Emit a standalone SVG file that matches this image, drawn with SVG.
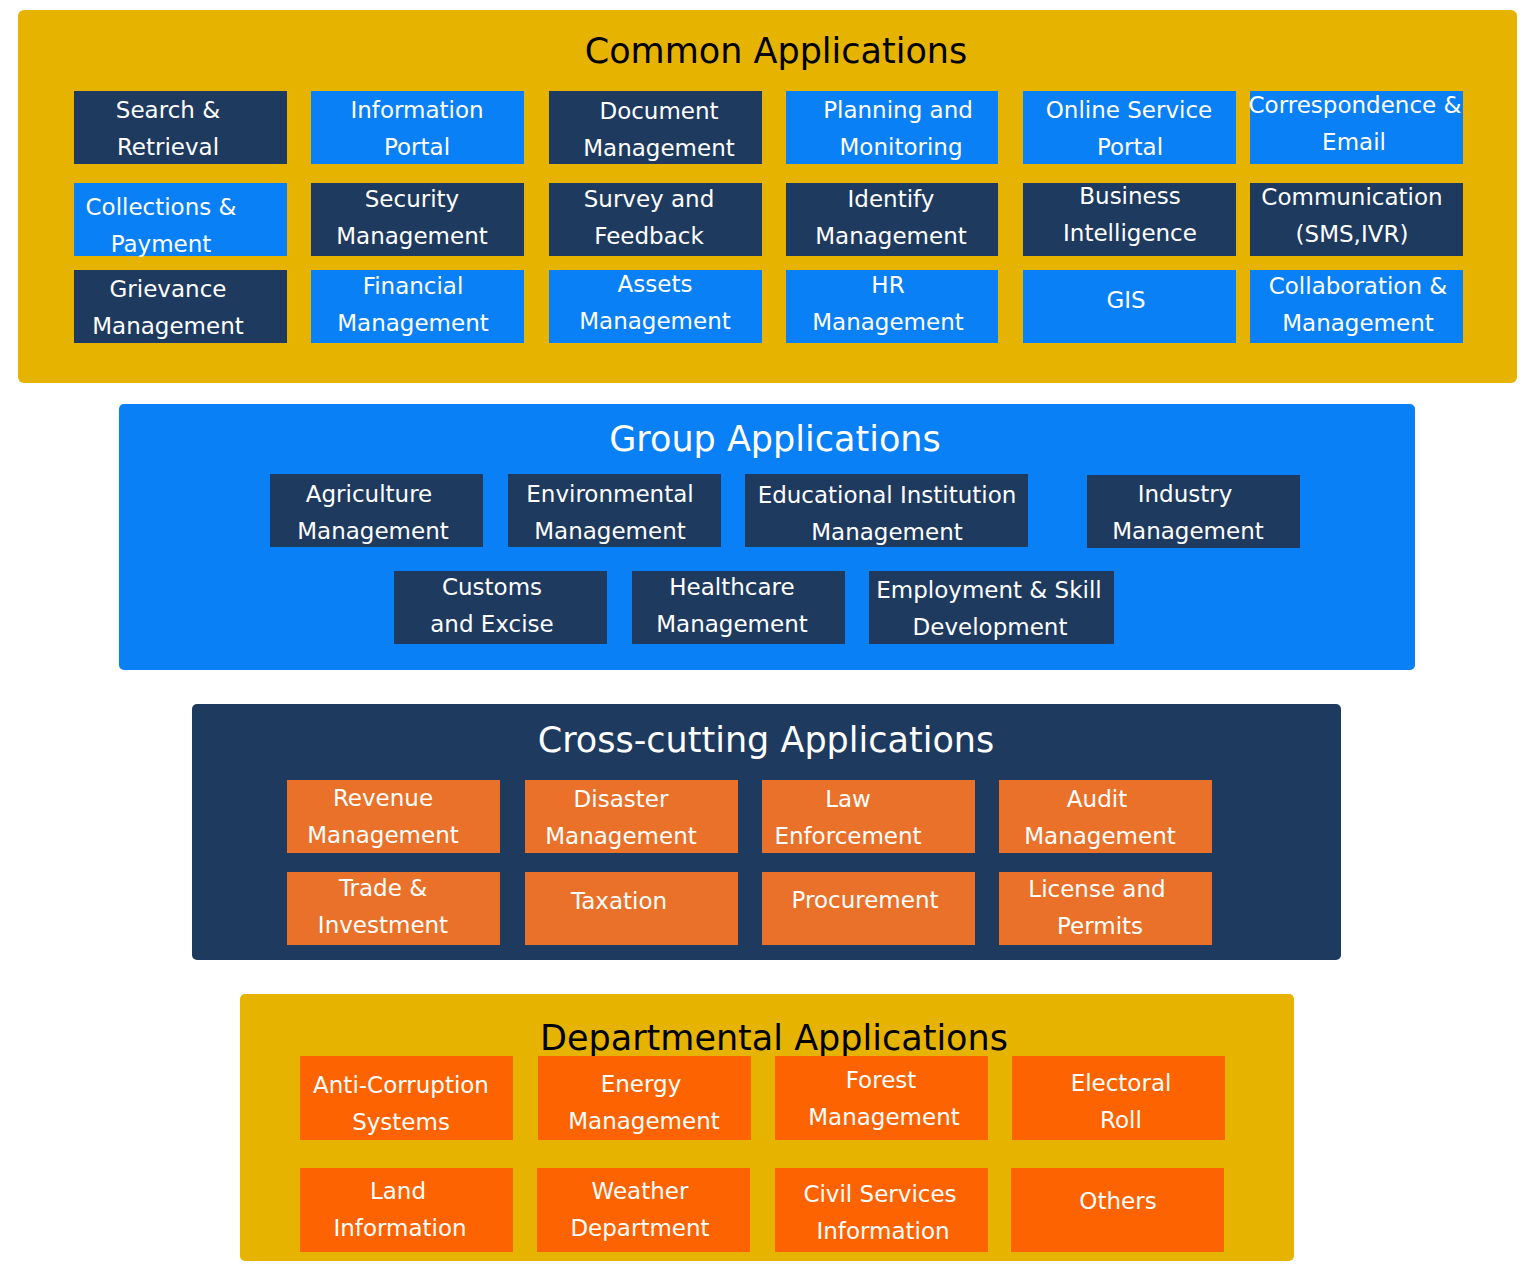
<svg xmlns="http://www.w3.org/2000/svg" width="1536" height="1280" viewBox="0 0 1536 1280">
<style>
.yel{fill:#E6B400}
.blu{fill:#0A80F6}
.nav{fill:#1E3A5F}
.org{fill:#EA7129}
.ora{fill:#FD6300}
text{font-family:"DejaVu Sans","Liberation Sans",sans-serif;text-anchor:middle}
.t{font-size:23px;fill:#FFFFFF}
.h{font-size:35px}
.hb{fill:#000000}
.hw{fill:#FFFFFF}
</style>
<rect width="1536" height="1280" fill="#FFFFFF"/>

<g id="common">
<rect class="yel" x="18" y="10" width="1499" height="373" rx="6"/>
<text class="h hb" x="776" y="63">Common Applications</text>
</g>
<g id="search"><rect class="nav" x="74" y="91" width="213" height="73"/><text class="t" x="168" y="118">Search &amp;</text><text class="t" x="168" y="155">Retrieval</text></g>
<g id="infoportal"><rect class="blu" x="311" y="91" width="213" height="73"/><text class="t" x="417" y="118">Information</text><text class="t" x="417" y="155">Portal</text></g>
<g id="docmgmt"><rect class="nav" x="549" y="91" width="213" height="73"/><text class="t" x="659" y="119">Document</text><text class="t" x="659" y="156">Management</text></g>
<g id="planning"><rect class="blu" x="786" y="91" width="212" height="73"/><text class="t" x="898" y="118">Planning and</text><text class="t" x="901" y="155">Monitoring</text></g>
<g id="online"><rect class="blu" x="1023" y="91" width="213" height="73"/><text class="t" x="1129" y="118">Online Service</text><text class="t" x="1130" y="155">Portal</text></g>
<g id="corresp"><rect class="blu" x="1250" y="91" width="213" height="73"/><text class="t" x="1355" y="113">Correspondence &amp;</text><text class="t" x="1354" y="150">Email</text></g>

<g id="collections"><rect class="blu" x="74" y="183" width="213" height="73"/><text class="t" x="161" y="215">Collections &amp;</text><text class="t" x="161" y="252">Payment</text></g>
<g id="security"><rect class="nav" x="311" y="183" width="213" height="73"/><text class="t" x="412" y="207">Security</text><text class="t" x="412" y="244">Management</text></g>
<g id="survey"><rect class="nav" x="549" y="183" width="213" height="73"/><text class="t" x="649" y="207">Survey and</text><text class="t" x="649" y="244">Feedback</text></g>
<g id="identify"><rect class="nav" x="786" y="183" width="212" height="73"/><text class="t" x="891" y="207">Identify</text><text class="t" x="891" y="244">Management</text></g>
<g id="bi"><rect class="nav" x="1023" y="183" width="213" height="73"/><text class="t" x="1130" y="204">Business</text><text class="t" x="1130" y="241">Intelligence</text></g>
<g id="comm"><rect class="nav" x="1250" y="183" width="213" height="73"/><text class="t" x="1352" y="205">Communication</text><text class="t" x="1352" y="242">(SMS,IVR)</text></g>

<g id="grievance"><rect class="nav" x="74" y="270" width="213" height="73"/><text class="t" x="168" y="297">Grievance</text><text class="t" x="168" y="334">Management</text></g>
<g id="financial"><rect class="blu" x="311" y="270" width="213" height="73"/><text class="t" x="413" y="294">Financial</text><text class="t" x="413" y="331">Management</text></g>
<g id="assets"><rect class="blu" x="549" y="270" width="213" height="73"/><text class="t" x="655" y="292">Assets</text><text class="t" x="655" y="329">Management</text></g>
<g id="hr"><rect class="blu" x="786" y="270" width="212" height="73"/><text class="t" x="888" y="293">HR</text><text class="t" x="888" y="330">Management</text></g>
<g id="gis"><rect class="blu" x="1023" y="270" width="213" height="73"/><text class="t" x="1126" y="308">GIS</text></g>
<g id="collab"><rect class="blu" x="1250" y="270" width="213" height="73"/><text class="t" x="1358" y="294">Collaboration &amp;</text><text class="t" x="1358" y="331">Management</text></g>

<g id="group">
<rect class="blu" x="119" y="404" width="1296" height="266" rx="5"/>
<text class="h hw" x="775" y="451">Group Applications</text>
</g>
<g id="agri"><rect class="nav" x="270" y="474" width="213" height="73"/><text class="t" x="369" y="502">Agriculture</text><text class="t" x="373" y="539">Management</text></g>
<g id="env"><rect class="nav" x="508" y="474" width="213" height="73"/><text class="t" x="610" y="502">Environmental</text><text class="t" x="610" y="539">Management</text></g>
<g id="edu"><rect class="nav" x="745" y="474" width="283" height="73"/><text class="t" x="887" y="503">Educational Institution</text><text class="t" x="887" y="540">Management</text></g>
<g id="industry"><rect class="nav" x="1087" y="475" width="213" height="73"/><text class="t" x="1185" y="502">Industry</text><text class="t" x="1188" y="539">Management</text></g>
<g id="customs"><rect class="nav" x="394" y="571" width="213" height="73"/><text class="t" x="492" y="595">Customs</text><text class="t" x="492" y="632">and Excise</text></g>
<g id="health"><rect class="nav" x="632" y="571" width="213" height="73"/><text class="t" x="732" y="595">Healthcare</text><text class="t" x="732" y="632">Management</text></g>
<g id="employ"><rect class="nav" x="869" y="571" width="245" height="73"/><text class="t" x="989" y="598">Employment &amp; Skill</text><text class="t" x="990" y="635">Development</text></g>

<g id="cross">
<rect class="nav" x="192" y="704" width="1149" height="256" rx="5"/>
<text class="h hw" x="766" y="752">Cross-cutting Applications</text>
</g>
<g id="revenue"><rect class="org" x="287" y="780" width="213" height="73"/><text class="t" x="383" y="806">Revenue</text><text class="t" x="383" y="843">Management</text></g>
<g id="disaster"><rect class="org" x="525" y="780" width="213" height="73"/><text class="t" x="621" y="807">Disaster</text><text class="t" x="621" y="844">Management</text></g>
<g id="law"><rect class="org" x="762" y="780" width="213" height="73"/><text class="t" x="848" y="807">Law</text><text class="t" x="848" y="844">Enforcement</text></g>
<g id="audit"><rect class="org" x="999" y="780" width="213" height="73"/><text class="t" x="1097" y="807">Audit</text><text class="t" x="1100" y="844">Management</text></g>
<g id="trade"><rect class="org" x="287" y="872" width="213" height="73"/><text class="t" x="383" y="896">Trade &amp;</text><text class="t" x="383" y="933">Investment</text></g>
<g id="tax"><rect class="org" x="525" y="872" width="213" height="73"/><text class="t" x="619" y="909">Taxation</text></g>
<g id="procure"><rect class="org" x="762" y="872" width="213" height="73"/><text class="t" x="865" y="908">Procurement</text></g>
<g id="license"><rect class="org" x="999" y="872" width="213" height="73"/><text class="t" x="1097" y="897">License and</text><text class="t" x="1100" y="934">Permits</text></g>

<g id="dept">
<rect class="yel" x="240" y="994" width="1054" height="267" rx="5"/>
<text class="h hb" x="774" y="1050">Departmental Applications</text>
</g>
<g id="anticorr"><rect class="ora" x="300" y="1056" width="213" height="84"/><text class="t" x="401" y="1093">Anti-Corruption</text><text class="t" x="401" y="1130">Systems</text></g>
<g id="energy"><rect class="ora" x="538" y="1056" width="213" height="84"/><text class="t" x="641" y="1092">Energy</text><text class="t" x="644" y="1129">Management</text></g>
<g id="forest"><rect class="ora" x="775" y="1056" width="213" height="84"/><text class="t" x="881" y="1088">Forest</text><text class="t" x="884" y="1125">Management</text></g>
<g id="electoral"><rect class="ora" x="1012" y="1056" width="213" height="84"/><text class="t" x="1121" y="1091">Electoral</text><text class="t" x="1121" y="1128">Roll</text></g>
<g id="land"><rect class="ora" x="300" y="1168" width="213" height="84"/><text class="t" x="398" y="1199">Land</text><text class="t" x="400" y="1236">Information</text></g>
<g id="weather"><rect class="ora" x="537" y="1168" width="213" height="84"/><text class="t" x="640" y="1199">Weather</text><text class="t" x="640" y="1236">Department</text></g>
<g id="civil"><rect class="ora" x="775" y="1168" width="213" height="84"/><text class="t" x="880" y="1202">Civil Services</text><text class="t" x="883" y="1239">Information</text></g>
<g id="others"><rect class="ora" x="1011" y="1168" width="213" height="84"/><text class="t" x="1118" y="1209">Others</text></g>

<g id="connectors"></g>
</svg>
